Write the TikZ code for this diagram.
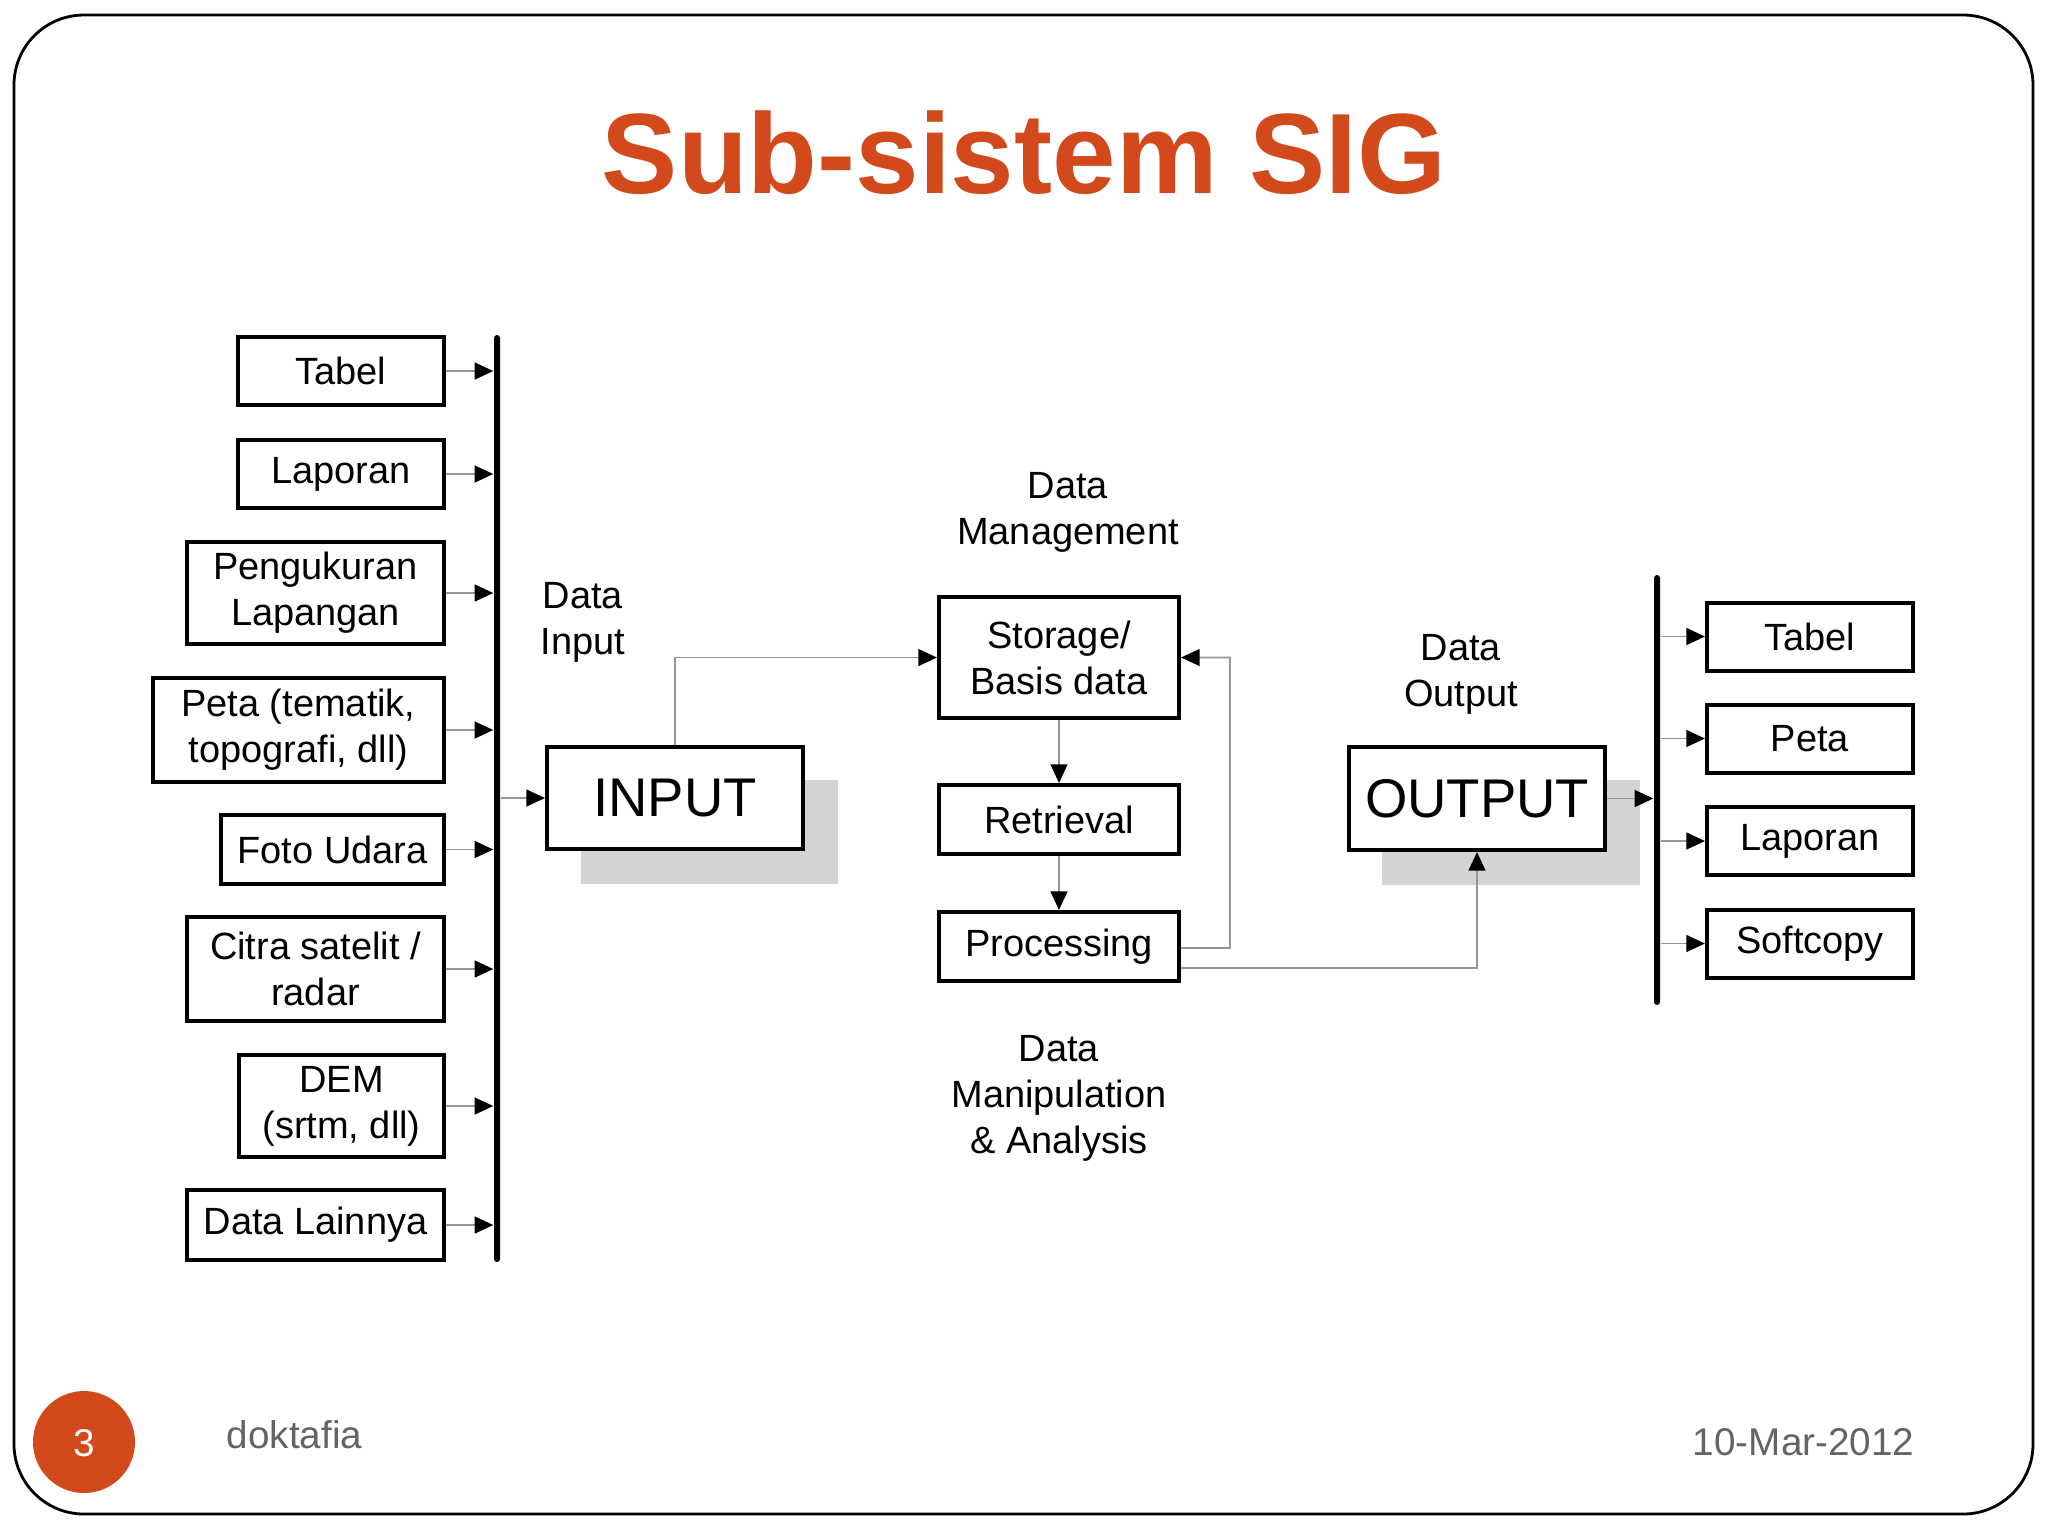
\documentclass[tikz,border=0pt]{standalone}
\usepackage{fontspec}
\setmainfont{Liberation Sans}
\usetikzlibrary{arrows.meta}
\definecolor{titleorange}{RGB}{210,74,28}
\definecolor{shadowgray}{RGB}{212,212,212}
\definecolor{conngray}{RGB}{150,150,150}
\definecolor{footgray}{RGB}{100,100,100}
\begin{document}
\begin{tikzpicture}[x=0.1mm,y=-0.1mm,
  box/.style={draw=black, line width=1.15pt, fill=white, inner sep=0pt, align=center,
              font=\fontsize{10.8}{13.1}\selectfont},
  bigbox/.style={box, font=\fontsize{15.5}{18}\selectfont},
  lbl/.style={inner sep=0pt, align=center, font=\fontsize{10.8}{13.1}\selectfont},
  conn/.style={draw=conngray, line width=0.5pt, -{Triangle[length=5.3pt,width=4.8pt,color=black]}},
  bus/.style={fill=black, inner sep=0pt, minimum width=0.6mm, rounded corners=0.3mm},
  shadowbox/.style={fill=shadowgray}
]
\useasboundingbox (0,0) rectangle (2048,1536);
\fill[white] (0,0) rectangle (2048,1536);
% frame
\draw[line width=0.8pt, rounded corners=7mm] (14,15) rectangle (2033,1514);

% title
\node[anchor=base, inner sep=0pt, text=titleorange, font=\fontsize{32.5}{39}\selectfont\bfseries] (title) at (1024,193) {Sub-sistem SIG};

% left inputs
\node[box, anchor=east, minimum width=20.6mm, minimum height=6.8mm] (l1) at (446,371) {Tabel};
\node[box, anchor=east, minimum width=20.6mm, minimum height=6.8mm] (l2) at (446,474) {Laporan};
\node[box, anchor=east, minimum width=25.7mm, minimum height=10.2mm] (l3) at (446,593) {Pengukuran\\Lapangan};
\node[box, anchor=east, minimum width=29.1mm, minimum height=10.4mm] (l4) at (446,730) {Peta (tematik,\\topografi, dll)};
\node[box, anchor=east, minimum width=22.3mm, minimum height=6.9mm] (l5) at (446,849.5) {Foto Udara};
\node[box, anchor=east, minimum width=25.7mm, minimum height=10.4mm] (l6) at (446,969) {Citra satelit /\\radar};
\node[box, anchor=east, minimum width=20.5mm, minimum height=10.2mm] (l7) at (446,1106) {DEM\\(srtm, dll)};
\node[box, anchor=east, minimum width=25.7mm, minimum height=7.0mm] (l8) at (446,1225) {Data Lainnya};

% left bus
\node[bus, minimum height=92.7mm] (busL) at (497,798.5) {};
\foreach \n in {l1,l2,l3,l4,l5,l6,l7,l8}
  \draw[conn] (\n.east) -- (\n.east -| busL.west);

% shadows
\fill[shadowbox] (581,780) rectangle (838,884);
\fill[shadowbox] (1382,780) rectangle (1640,885);

% INPUT
\node[bigbox, minimum width=25.6mm, minimum height=10.2mm] (input) at (675,798) {INPUT};
\draw[conn] (input.west -| busL.east) -- (input.west);

% data management
\node[box, minimum width=24mm, minimum height=12.1mm] (storage) at (1059,657.5) {Storage/\\Basis data};
\node[box, minimum width=24mm, minimum height=6.9mm] (retrieval) at (1059,819.5) {Retrieval};
\node[box, minimum width=24mm, minimum height=6.9mm] (processing) at (1059,946.5) {Processing};

\draw[conn] (input.north) |- (storage.west);
\draw[conn] (storage.south) -- (retrieval.north);
\draw[conn] (retrieval.south) -- (processing.north);
\coordinate (fb) at (1230,948);
\draw[conn] ([yshift=-0.15mm]processing.east) -- (fb) |- (storage.east);

% OUTPUT
\node[bigbox, minimum width=25.6mm, minimum height=10.3mm] (output) at (1477,798.5) {OUTPUT};
\draw[conn] ([yshift=-2.15mm]processing.east) -| (output.south);

% right bus
\node[bus, minimum height=43mm] (busR) at (1657,790) {};
\draw[conn] (output.east) -- (output.east -| busR.west);

\node[box, minimum width=20.6mm, minimum height=6.8mm] (r1) at (1810,636.5) {Tabel};
\node[box, minimum width=20.6mm, minimum height=6.8mm] (r2) at (1810,738.5) {Peta};
\node[box, minimum width=20.6mm, minimum height=6.8mm] (r3) at (1810,841) {Laporan};
\node[box, minimum width=20.6mm, minimum height=6.8mm] (r4) at (1810,943.5) {Softcopy};
\foreach \n in {r1,r2,r3,r4}
  \draw[conn] (\n.west -| busR.east) -- (\n.west);

% labels
\node[lbl] (lin) at (583,622) {Data\\Input};
\node[lbl] (lman) at (1068,512) {Data\\Management};
\node[lbl] (lout) at (1461,674) {Data\\Output};
\node[lbl] (lanal) at (1059,1098) {Data\\Manipulation\\\& Analysis};

% footer
\fill[titleorange] (84,1442) circle (51);
\node[inner sep=0pt, text=white, font=\fontsize{11}{13}\selectfont] (pnum) at (84,1443) {3};
\node[anchor=base west, inner sep=0pt, text=footgray, font=\fontsize{11}{13}\selectfont] (author) at (226,1448) {doktafia};
\node[anchor=base east, inner sep=0pt, text=footgray, font=\fontsize{11}{13}\selectfont] (date) at (1915,1455) {10-Mar-2012};
\end{tikzpicture}
\end{document}
